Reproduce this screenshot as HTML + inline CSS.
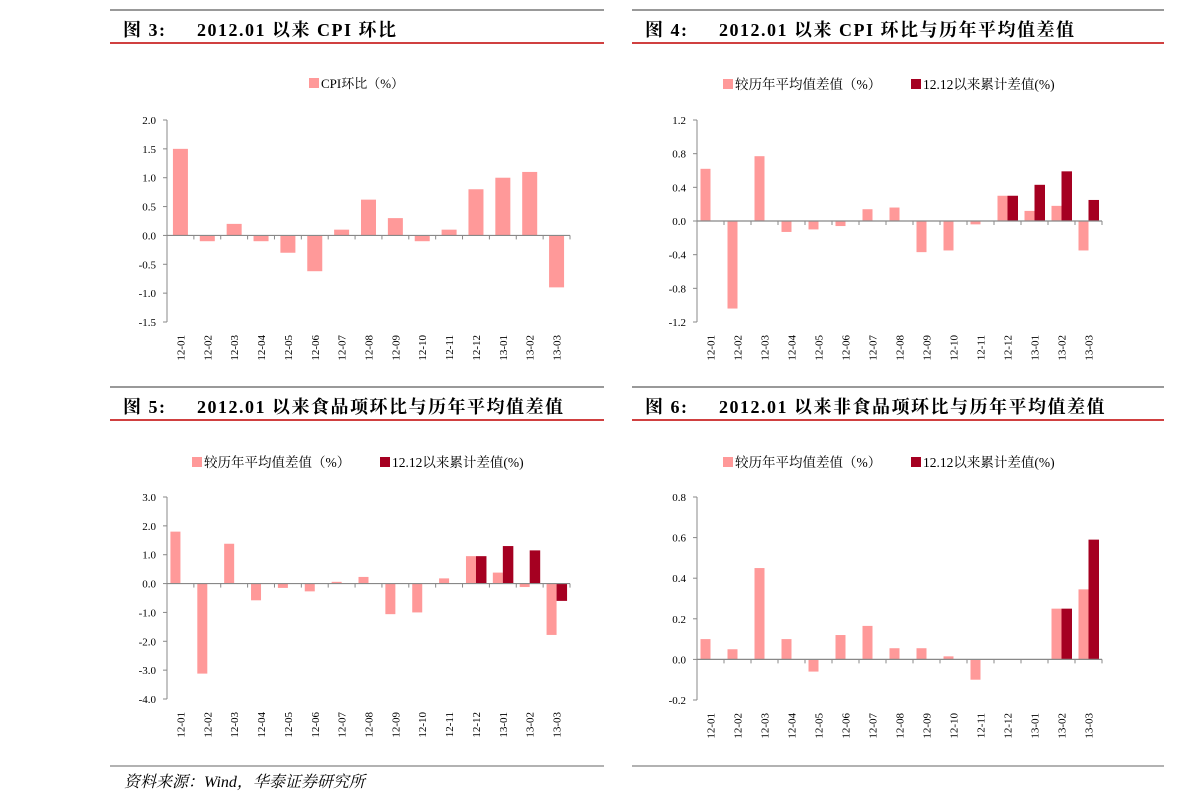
<!DOCTYPE html>
<html><head><meta charset="utf-8">
<style>
html,body{margin:0;padding:0;background:#fff;}
svg{display:block;}
text{font-family:"Liberation Serif","Noto Serif CJK SC",serif;}
</style></head>
<body>
<svg id="s" width="1191" height="811" xmlns="http://www.w3.org/2000/svg">
<g font-family="Liberation Serif, Noto Serif CJK SC, serif" font-weight="bold" font-size="18" fill="#000" letter-spacing="1.5">
<line x1="110" y1="10" x2="604" y2="10" stroke="#999" stroke-width="2"/>
<line x1="110" y1="43" x2="604" y2="43" stroke="#c00000" stroke-width="1.5"/>
<text x="123" y="36">图 3:</text><text x="197" y="36">2012.01 以来 CPI 环比</text>
<line x1="632" y1="10" x2="1164" y2="10" stroke="#999" stroke-width="2"/>
<line x1="632" y1="43" x2="1164" y2="43" stroke="#c00000" stroke-width="1.5"/>
<text x="645" y="36">图 4:</text><text x="719" y="36">2012.01 以来 CPI 环比与历年平均值差值</text>
<line x1="110" y1="387" x2="604" y2="387" stroke="#999" stroke-width="2"/>
<line x1="110" y1="420" x2="604" y2="420" stroke="#c00000" stroke-width="1.5"/>
<text x="123" y="413">图 5:</text><text x="197" y="413">2012.01 以来食品项环比与历年平均值差值</text>
<line x1="632" y1="387" x2="1164" y2="387" stroke="#999" stroke-width="2"/>
<line x1="632" y1="420" x2="1164" y2="420" stroke="#c00000" stroke-width="1.5"/>
<text x="645" y="413">图 6:</text><text x="719" y="413">2012.01 以来非食品项环比与历年平均值差值</text>
</g>
<line x1="110" y1="766" x2="604" y2="766" stroke="#999" stroke-width="1.5"/>
<line x1="632" y1="766" x2="1164" y2="766" stroke="#999" stroke-width="1.5"/>
<text x="124" y="787" font-size="16" font-style="italic">资料来源：Wind，华泰证券研究所</text>
<g id="charts"></g>
</svg>
<script>
var NS="http://www.w3.org/2000/svg",g=document.getElementById('charts');
function el(t,a,txt){var e=document.createElementNS(NS,t);for(var k in a)e.setAttribute(k,a[k]);if(txt!=null)e.textContent=txt;g.appendChild(e);return e;}
var cats=["12-01","12-02","12-03","12-04","12-05","12-06","12-07","12-08","12-09","12-10","12-11","12-12","13-01","13-02","13-03"];
var PINK="#ff9999",RED="#a50021";
function chart(o){
 var x0=o.x0,x1=o.x1,ytop=o.ytop,ybot=o.ybot,vmax=o.vmax,vmin=o.vmin;
 var sc=(ybot-ytop)/(vmax-vmin);function Y(v){return ytop+(vmax-v)*sc;}
 var y0=Y(0),cw=(x1-x0)/15;
 for(var i=0;i<15;i++){
  var c=x0+cw*(i+0.5);
  var a=o.a[i],b=o.b?o.b[i]:null;
  if(o.b){
   if(a!==0)el('rect',{x:c-10,y:Math.min(Y(a),y0),width:10,height:Math.abs(Y(a)-y0),fill:PINK});
   if(b!=null)el('rect',{x:c,y:Math.min(Y(b),y0),width:10.5,height:Math.abs(Y(b)-y0),fill:RED});
  }else{
   el('rect',{x:c-7.5,y:Math.min(Y(a),y0),width:15,height:Math.abs(Y(a)-y0),fill:PINK});
  }
  el('text',{x:0,y:0,'font-size':11,'text-anchor':'end',transform:'translate('+(c+4)+','+(ybot+13)+') rotate(-90)'},cats[i]);
 }
 el('line',{x1:x0,y1:ytop,x2:x0,y2:ybot,stroke:'#888','stroke-width':1});
 el('line',{x1:x0,y1:y0,x2:x1,y2:y0,stroke:'#888','stroke-width':1.2});
 for(var i=0;i<=15;i++){var xx=x0+cw*i;el('line',{x1:xx,y1:y0,x2:xx,y2:y0+4,stroke:'#888'});}
 for(var k=0;k<o.ticks.length;k++){var v=o.ticks[k],yy=Y(v);
  el('line',{x1:x0-4,y1:yy,x2:x0,y2:yy,stroke:'#888'});
  el('text',{x:x0-11,y:yy+4,'font-size':11,'text-anchor':'end'},(v<0?'-':'')+Math.abs(v).toFixed(1));
 }
}
function legend2(x,y){
 el('rect',{x:x,y:y-5,width:10,height:10,fill:PINK});
 el('text',{x:x+12,y:y+5,'font-size':13.5},'较历年平均值差值（%）');
 el('rect',{x:x+188,y:y-5,width:10,height:10,fill:RED});
 el('text',{x:x+200,y:y+5,'font-size':13.5},'12.12以来累计差值(%)');
}
el('rect',{x:309,y:78,width:10,height:10,fill:PINK});
el('text',{x:321,y:88,'font-size':13},'CPI环比（%）');
chart({x0:167,x1:570,ytop:120,ybot:322,vmax:2,vmin:-1.5,ticks:[2,1.5,1,0.5,0,-0.5,-1,-1.5],
 a:[1.5,-0.1,0.2,-0.1,-0.3,-0.62,0.1,0.62,0.3,-0.1,0.1,0.8,1.0,1.1,-0.9]});
legend2(723,84);
chart({x0:697,x1:1102,ytop:120,ybot:322,vmax:1.2,vmin:-1.2,ticks:[1.2,0.8,0.4,0,-0.4,-0.8,-1.2],
 a:[0.62,-1.04,0.77,-0.13,-0.1,-0.06,0.14,0.16,-0.37,-0.35,-0.04,0.3,0.12,0.18,-0.35],
 b:[null,null,null,null,null,null,null,null,null,null,null,0.3,0.43,0.59,0.25]});
legend2(192,462);
chart({x0:167,x1:570,ytop:497,ybot:699,vmax:3,vmin:-4,ticks:[3,2,1,0,-1,-2,-3,-4],
 a:[1.8,-3.12,1.38,-0.58,-0.15,-0.27,0.06,0.23,-1.06,-1.0,0.18,0.95,0.38,-0.12,-1.78],
 b:[null,null,null,null,null,null,null,null,null,null,null,0.95,1.3,1.15,-0.6]});
legend2(723,462);
chart({x0:697,x1:1102,ytop:497,ybot:700,vmax:0.8,vmin:-0.2,ticks:[0.8,0.6,0.4,0.2,0,-0.2],
 a:[0.1,0.05,0.45,0.1,-0.06,0.12,0.165,0.055,0.055,0.015,-0.1,0,0,0.25,0.345],
 b:[null,null,null,null,null,null,null,null,null,null,null,null,null,0.25,0.59]});
</script>
</body></html>
